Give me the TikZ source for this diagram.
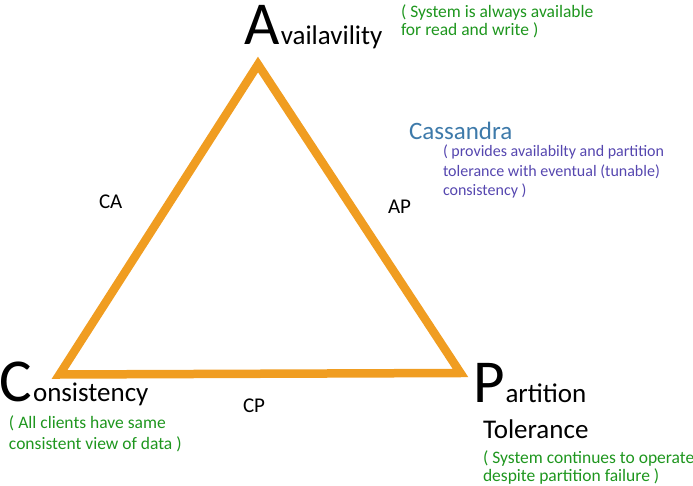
\documentclass[tikz,border=0pt]{standalone}
\usepackage{fontspec}
\setmainfont{Carlito}
\definecolor{tri}{RGB}{240,157,33}
\definecolor{grn}{RGB}{30,150,30}
\definecolor{cas}{RGB}{62,122,170}
\definecolor{pur}{RGB}{85,70,175}
\begin{document}
\begin{tikzpicture}[x=1pt,y=-1pt,
  txt/.style={anchor=base west,inner sep=0pt,outer sep=0pt},
  big/.style={txt,font=\fontsize{61}{61}\selectfont},
  word/.style={txt,font=\fontsize{27}{27}\selectfont},
  note/.style={txt,text=grn,font=\fontsize{17.5}{18}\selectfont},
  casname/.style={txt,text=cas,font=\fontsize{25}{25}\selectfont},
  casnote/.style={txt,text=pur,font=\fontsize{16}{16}\selectfont},
  edgelabel/.style={txt,font=\fontsize{21}{21}\selectfont},
  triline/.style={draw=tri,line width=8.5pt,line join=miter}]
\useasboundingbox (0,0) rectangle (693,486);
% triangle
\coordinate (vA) at (258,64.5);
\coordinate (vC) at (59.5,374.5);
\coordinate (vP) at (460.5,373);
\draw[triline] (vA) -- (vC) -- (vP) -- cycle;
% Availability
\node[big] (A) at (244,45) {A};
\node[word] (Aw) at ([xshift=1.5pt]A.base east) {vailavility};
\node[note] (An1) at (401,18) {( System is always available};
\node[note] (An2) at (401,36) {for read and write )};
% Consistency
\node[big] (C) at (-1,401) {C};
\node[word] (Cw) at ([xshift=1.5pt]C.base east) {onsistency};
\node[note] (Cn1) at (9,428) {( All clients have same};
\node[note] (Cn2) at (9,449) {consistent view of data )};
% Partition
\node[big] (P) at (473,402) {P};
\node[word] (Pw) at ([xshift=1pt]P.base east) {artition};
\node[word] (Pt) at (483,438) {Tolerance};
\node[note] (Pn1) at (483,463) {( System continues to operate};
\node[note] (Pn2) at (483,481) {despite partition failure )};
% Cassandra
\node[casname] (cas) at (409,140) {Cassandra};
\node[casnote] (cs1) at (443,157) {( provides availabilty and partition};
\node[casnote] (cs2) at (443,176.5) {tolerance with eventual (tunable)};
\node[casnote] (cs3) at (443,196) {consistency )};
% edge labels
\node[edgelabel] (CA) at (99,209) {CA};
\node[edgelabel] (AP) at (388,214) {AP};
\node[edgelabel] (CP) at (243,412) {CP};
\end{tikzpicture}
\end{document}
